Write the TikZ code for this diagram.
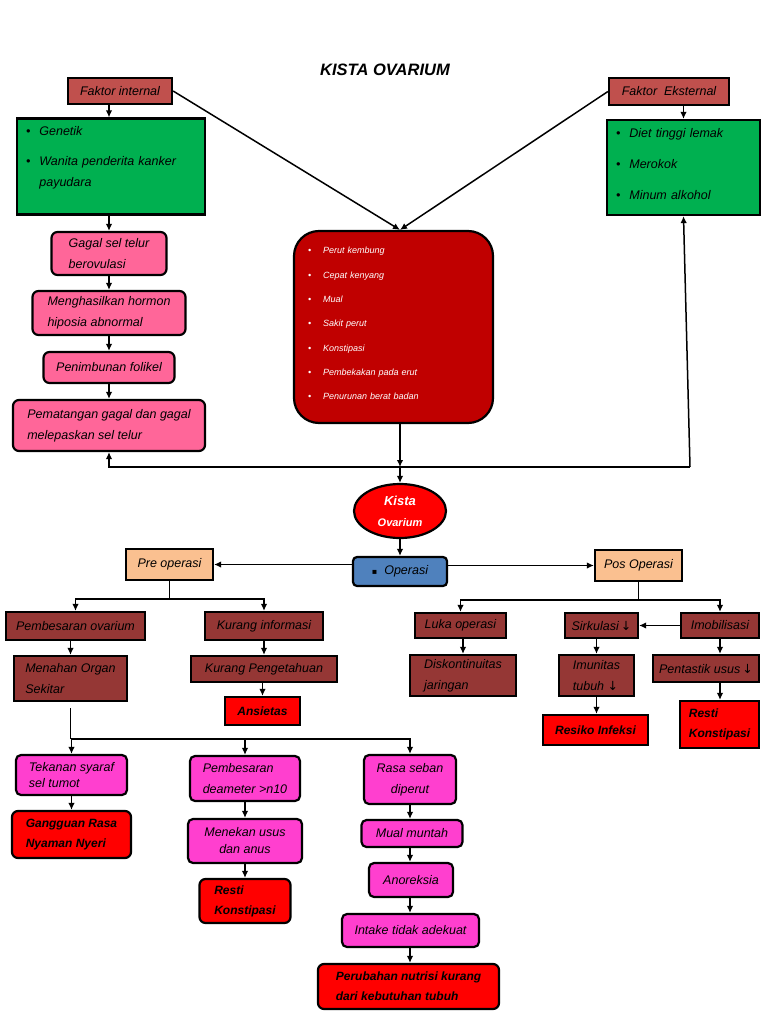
\documentclass[tikz,border=0pt]{standalone}
\usepackage{fontspec}
\setmainfont{Liberation Sans}
\newfontfamily\simbol{DejaVu Sans}
\usetikzlibrary{arrows.meta,shapes.geometric}

\definecolor{warnaFaktor}{HTML}{C0504D}
\definecolor{warnaHijau}{HTML}{00B050}
\definecolor{warnaPink}{HTML}{FF6699}
\definecolor{warnaMerahTua}{HTML}{C00000}
\definecolor{warnaMerah}{HTML}{FF0000}
\definecolor{warnaBiru}{HTML}{4F81BD}
\definecolor{warnaPeach}{HTML}{FAC090}
\definecolor{warnaCoklat}{HTML}{953735}
\definecolor{warnaMagenta}{HTML}{FF3FCF}

\newcommand{\turun}{{\simbol ↓}}

\begin{document}
\begin{tikzpicture}[x=1pt, y=-1pt,
    teks/.style={font=\itshape\fontsize{12.5}{21}\selectfont},
    kotak/.style={draw, line width=2.2pt, inner sep=2pt, teks},
    ukuran/.style 2 args={minimum width=#1pt, minimum height=#2pt},
    faktor/.style={kotak, fill=warnaFaktor},
    hijau/.style={kotak, fill=warnaHijau, align=left},
    pink/.style={kotak, fill=warnaPink, rounded corners=6pt},
    tahap/.style={kotak, fill=warnaPeach},
    coklat/.style={kotak, fill=warnaCoklat},
    magenta/.style={kotak, fill=warnaMagenta, rounded corners=5pt},
    hasil/.style={kotak, fill=warnaMerah, font=\bfseries\itshape\fontsize{12}{20}\selectfont},
    panah/.style={-{Latex[length=7pt,width=6.5pt]}, line width=1.5pt}]
	\path[fill=white] (0,0) rectangle (768,1024);

	\node[font=\bfseries\itshape\fontsize{16.5}{18}\selectfont] (judul) at (385,70) {KISTA OVARIUM};

	% faktor internal
	\node[faktor, ukuran={104}{26}] (fi) at (120,91) {Faktor internal};
	\node[hijau, ukuran={188}{95}, text width=170pt, inner xsep=9pt] (gl) at (111,166.5) {%
		\begin{tabular}{@{}l@{\hspace{9pt}}l@{}}
			\textbullet & Genetik\\[9pt]
			\textbullet & Wanita penderita kanker\\
			& payudara\\[20pt]
		\end{tabular}};
	\node[pink, ukuran={115}{43}, align=left] (gsl) at (109,253.5) {Gagal sel telur\\berovulasi};
	\node[pink, ukuran={153}{44}, align=left] (mh) at (109,313) {Menghasilkan hormon\\hiposia abnormal};
	\node[pink, ukuran={131}{31}] (pf) at (109,367.5) {Penimbunan folikel};
	\node[pink, ukuran={192}{51}, align=left] (pgm) at (109,425.5) {Pematangan gagal dan gagal\\melepaskan sel telur};

	% faktor eksternal
	\node[faktor, ukuran={120}{27}] (fe) at (669,91.5) {Faktor\ \ Eksternal};
	\node[hijau, ukuran={153}{95}, text width=135pt, inner xsep=9pt] (gr) at (683.5,167.5) {%
		\begin{tabular}{@{}l@{\hspace{9pt}}l@{}}
			\textbullet & Diet tinggi lemak\\[10pt]
			\textbullet & Merokok\\[10pt]
			\textbullet & Minum alkohol\\[6pt]
		\end{tabular}};

	% gejala
	\node[kotak, fill=warnaMerahTua, rounded corners=25pt, ukuran={199}{192}, text width=171pt, inner xsep=14pt, text=white, font=\itshape\fontsize{9}{24.3}\selectfont] (gej) at (393.5,327) {%
		\begin{tabular}{@{}l@{\hspace{12pt}}l@{}}
			\textbullet & Perut kembung\\
			\textbullet & Cepat kenyang\\
			\textbullet & Mual\\
			\textbullet & Sakit perut\\
			\textbullet & Konstipasi\\
			\textbullet & Pembekakan pada erut\\
			\textbullet & Penurunan berat badan\\[10pt]
		\end{tabular}};

	\node[ellipse, draw, line width=2.2pt, fill=warnaMerah, text=white, ukuran={92}{54}, inner sep=0pt, align=center, font=\bfseries\itshape\fontsize{11}{21}\selectfont] (ko) at (400,511) {{\fontsize{13}{21}\selectfont Kista}\\Ovarium};
	\node[kotak, fill=warnaBiru, rounded corners=4pt, ukuran={94}{29}] (op) at (400,571.5) {{\simbol\fontsize{8}{8}\selectfont ▪}\ \ Operasi};
	\node[tahap, ukuran={87}{31}] (pre) at (169.5,564.5) {Pre operasi};
	\node[tahap, ukuran={87}{31}] (pos) at (638.5,565.5) {Pos Operasi};

	% pre operasi
	\node[coklat, ukuran={139}{28}] (pbo) at (75.5,626) {Pembesaran ovarium};
	\node[coklat, ukuran={113}{45}, align=left] (mos) at (70.5,678.5) {Menahan Organ\\Sekitar};
	\node[coklat, ukuran={118}{28}] (ki) at (264,626) {Kurang informasi};
	\node[coklat, ukuran={146}{26}] (kp) at (264,669) {Kurang Pengetahuan};
	\node[hasil, ukuran={75}{28}] (ans) at (262.5,711) {Ansietas};

	\node[magenta, ukuran={111}{40}, align=left, font=\itshape\fontsize{12.5}{16}\selectfont] (tss) at (71.5,775) {Tekanan syaraf\\sel tumot};
	\node[hasil, rounded corners=6pt, ukuran={119}{47}, align=left] (grn) at (71.5,834.5) {Gangguan Rasa\\Nyaman Nyeri};
	\node[magenta, ukuran={110}{45}, align=left] (pd) at (245,778.5) {Pembesaran\\deameter >n10};
	\node[magenta, ukuran={114}{44}, align=center, font=\itshape\fontsize{12.5}{17}\selectfont] (mua) at (245,841) {Menekan usus\\dan anus};
	\node[hasil, rounded corners=6pt, ukuran={91}{44}, align=left] (rk1) at (245,901) {Resti\\Konstipasi};
	\node[magenta, ukuran={92}{49}, align=center] (rsd) at (410,779.5) {Rasa seban\\diperut};
	\node[magenta, ukuran={101}{27}] (mm) at (412,833.5) {Mual muntah};
	\node[magenta, ukuran={84}{34}] (ano) at (411,880) {Anoreksia};
	\node[magenta, ukuran={137}{33}] (itk) at (410.5,930.5) {Intake tidak adekuat};
	\node[hasil, rounded corners=6pt, ukuran={181}{45}, align=left] (pnk) at (408.5,986.5) {Perubahan nutrisi kurang\\dari kebutuhan tubuh};

	% pos operasi
	\node[coklat, ukuran={91}{25}] (lo) at (460.5,625.5) {Luka operasi};
	\node[coklat, ukuran={106}{41}, align=left] (dj) at (463,675.5) {Diskontinuitas\\jaringan};
	\node[coklat, ukuran={78}{25}] (imo) at (720,625.5) {Imobilisasi};
	\node[coklat, ukuran={73}{25}] (sir) at (601.5,625.5) {Sirkulasi\,\turun};
	\node[coklat, ukuran={75}{41}, align=left] (imt) at (596.5,675.5) {Imunitas\\tubuh \turun};
	\node[coklat, ukuran={106}{27}] (pu) at (706,668.5) {Pentastik usus\,\turun};
	\node[hasil, ukuran={105}{30}] (ri) at (595.5,730) {Resiko Infeksi};
	\node[hasil, ukuran={79}{47}, align=left] (rk2) at (719.5,724.5) {Resti\\Konstipasi};

	% panah atas
	\draw[panah] (gsl.north |- fi.south) -- (gsl.north |- gl.north);
	\draw[panah] (gsl.north |- gl.south) -- (gsl.north);
	\draw[panah] (gsl.south) -- (mh.north);
	\draw[panah] (mh.south) -- (pf.north);
	\draw[panah] (pf.south) -- (pgm.north);
	\draw[panah] (fe.south -| gr.north) -- (gr.north);
	\draw[panah] (fi.east) -- (ko.north |- gej.north);
	\draw[panah] (fe.west) -- (ko.north |- gej.north);

	% ke kista
	\coordinate (simpang) at (400,467);
	\coordinate (kanan) at (690,467);
	\draw[panah] (simpang |- gej.south) -- (simpang);
	\draw[panah] (simpang) -- (ko.north);
	\draw[panah] (simpang) -| (pgm.south);
	\draw[line width=1.5pt] (simpang) -- (kanan);
	\draw[panah] (kanan) -- (gr.south);

	% operasi
	\draw[panah] (ko.south) -- (op.north);
	\draw[panah] (op.west |- pre.east) -- (pre.east);
	\draw[panah] (op.east |- pos.west) -- (pos.west);

	% cabang pre operasi
	\draw[line width=1.5pt] (pre.south) -- ++(0,18) coordinate (cabPre);
	\draw[panah] (cabPre) -| (pbo.north);
	\draw[panah] (cabPre) -| (ki.north);
	\draw[panah] (pbo.south -| mos.north) -- (mos.north);
	\draw[panah] (ki.south) -- (kp.north);
	\draw[panah] (kp.south -| ans.north) -- (ans.north);

	\draw[line width=1.5pt] ([yshift=-6pt]mos.south) -- ++(0,31) coordinate (cabBawah);
	\foreach \n in {tss,pd,rsd}
		\draw[panah] (cabBawah) -| (\n.north);
	\draw[panah] (tss.south) -- (grn.north);
	\draw[panah] (pd.south) -- (mua.north);
	\draw[panah] (mua.south) -- (rk1.north);
	\foreach \a/\b in {rsd/mm, mm/ano, ano/itk, itk/pnk}
		\draw[panah] (\a.south -| rsd.south) -- (\b.north -| rsd.south);

	% cabang pos operasi
	\draw[line width=1.5pt] (pos.south) -- ++(0,18) coordinate (cabPos);
	\draw[panah] (cabPos) -| (lo.north);
	\draw[panah] (cabPos) -| (imo.north);
	\draw[panah] (lo.south -| dj.north) -- (dj.north);
	\draw[panah] (imo.west) -- (sir.east);
	\draw[panah] (sir.south -| imt.north) -- (imt.north);
	\draw[panah] (imt.south) -- (imt.south |- ri.north);
	\draw[panah] (imo.south) -- (imo.south |- pu.north);
	\draw[panah] (imo.south |- pu.south) -- (imo.south |- rk2.north);
\end{tikzpicture}
\end{document}
